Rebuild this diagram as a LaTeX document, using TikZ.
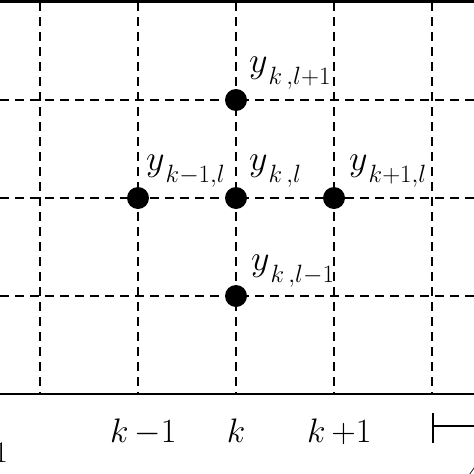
\RequirePackage{fix-cm}
\documentclass[tikz,border=0pt]{standalone}
\newcommand\ylab[1]{\fontsize{36}{36}\selectfont$y$\kern1pt\raisebox{-12pt}{\fontsize{25}{25}\selectfont$#1$}}
\begin{document}
\begin{tikzpicture}[x=1pt,y=-1pt,
  gridline/.style={line width=1.8pt, dash pattern=on 9pt off 6pt},
  frameline/.style={line width=2.8pt},
  thinline/.style={line width=1.8pt},
  dot/.style={circle, fill=black, inner sep=0pt, minimum size=22pt},
  lbl/.style={inner sep=0pt, anchor=base west},
  axlbl/.style={inner sep=0pt, font=\fontsize{34}{34}\selectfont}]
\useasboundingbox (0,0) rectangle (474,474);
% grid
\foreach \x in {40,138,236,334,432} \draw[gridline] (\x,2) -- (\x,394);
\foreach \y in {100,198,296} \draw[gridline] (0,\y) -- (474,\y);
\draw[frameline] (0,1.5) -- (474,1.5);
\draw[frameline] (0,394) -- (474,394);
% dots
\node[dot] (n) at (236,100) {};
\node[dot] (w) at (138,198) {};
\node[dot] (c) at (236,198) {};
\node[dot] (e) at (334,198) {};
\node[dot] (s) at (236,296) {};
% labels
\node[lbl, xshift=13pt, yshift=28pt] (ln) at (n.center) {\ylab{k\,{,}l{+}1}};
\node[lbl, xshift=8pt, yshift=28pt] (lw) at (w.center) {\ylab{k{-}1{,}l}};
\node[lbl, xshift=13pt, yshift=28pt] (lc) at (c.center) {\ylab{k\,{,}l}};
\node[lbl, xshift=15pt, yshift=28pt] (le) at (e.center) {\ylab{k{+}1{,}l}};
\node[lbl, xshift=15pt, yshift=26pt] (ls) at (s.center) {\ylab{k\,{,}l{-}1}};
% axis labels
\node[axlbl, anchor=base west] (k1) at (110,442) {$k\,{-}1$};
\node[axlbl, anchor=base] (k0) at (236,442) {$k$};
\node[axlbl, anchor=base west] (k2) at (307,442) {$k\,{+}1$};
\node[axlbl, anchor=base east, font=\fontsize{30}{30}\selectfont] (one) at (8,462) {1};
% step marker
\coordinate (bt) at (433,413);
\coordinate (bb) at (433,443);
\coordinate (bm) at (433,426);
\coordinate (br) at (474,426);
\draw[thinline] (bt) -- (bb);
\draw[line width=1.4pt] (bm) -- (br);
\node[axlbl, anchor=base west] (delta) at (463,480) {$\mathit{\Delta}$};
\end{tikzpicture}
\end{document}
